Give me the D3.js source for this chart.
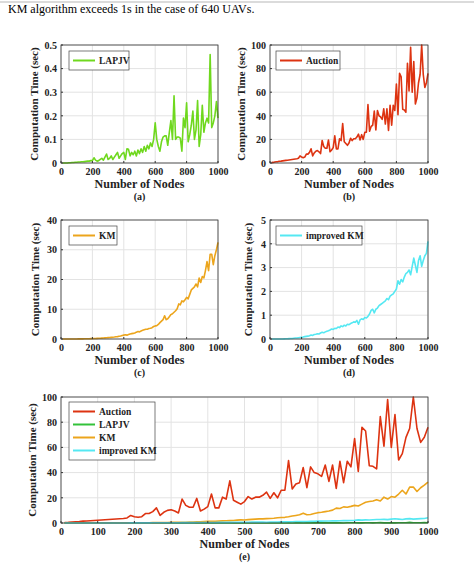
<!DOCTYPE html>
<html><head><meta charset="utf-8">
<script src="https://cdn.jsdelivr.net/npm/d3@7"></script>
<style>body{margin:0;background:#fff}text{font-family:"Liberation Serif",serif;font-weight:bold}</style>
</head><body><svg id="c" width="474" height="569"></svg>
<script>
const nodes = d3.range(10, 1001, 10);
const lapjv = [0,0,0,0,0.001,0.001,0.002,0.002,0.003,0.003,
0.004,0.004,0.005,0.005,0.006,0.007,0.008,0.008,0.01,0.01,
0.022,0.012,0.008,0.01,0.015,0.02,0.012,0.025,0.038,0.015,
0.02,0.03,0.015,0.025,0.035,0.045,0.02,0.03,0.04,0.045,
0.015,0.06,0.058,0.03,0.045,0.035,0.05,0.03,0.055,0.04,
0.06,0.045,0.07,0.05,0.075,0.06,0.085,0.07,0.1,0.17,
0.1,0.07,0.05,0.09,0.11,0.115,0.115,0.075,0.13,0.18,
0.1,0.285,0.1,0.11,0.11,0.105,0.05,0.19,0.15,0.255,
0.09,0.12,0.16,0.22,0.1,0.14,0.265,0.07,0.12,0.245,
0.13,0.17,0.19,0.17,0.46,0.15,0.17,0.2,0.26,0.19];
const auction = [0.3,0.5,0.8,1,1.2,1.5,1.6,1.8,2,2.2,
2.4,2.6,2.8,3,3.2,3.4,3.6,4,6,5,
4.5,5,7.5,7.5,9,12,6,8.5,10,10.5,
9.5,8,19,14,12.5,12.5,19.5,9.5,11,13,
23,12,12,20.5,19,33.5,18,16.5,15,17,
21,19,20.5,20.5,22,24.5,19.5,24,20,26,
26,49.5,27,31,32,44,28,44.5,40,39,
37,46,33,46,27.5,49,32,49,44.5,67,
41,76,73,45.5,45,43,84.5,61,98,60,
86,50,55,68,75,100,75,64,68,76];
const km = [0,0,0,0,0,0,0.01,0.01,0.02,0.02,
0.03,0.03,0.04,0.05,0.06,0.07,0.08,0.1,0.12,0.14,
0.16,0.18,0.2,0.23,0.26,0.3,0.33,0.37,0.42,0.47,
0.5,0.55,0.6,0.65,0.75,0.8,0.9,1.0,1.2,1.3,
1.4,1.3,1.5,1.7,1.8,1.9,2.0,2.3,2.5,2.4,
2.7,2.9,3.1,3.3,3.3,3.5,3.6,3.8,4.2,4.4,
4.5,4.9,5.5,6.0,6.5,7.8,6.5,6.8,7.5,8.2,
8.5,9.0,9.5,10.2,11.8,11.5,12.8,12.5,13.2,14,
13.5,15,16.5,17,17.5,18.5,17.5,20.5,19,21,
20.5,23,26,23,28.5,28.5,25,28,30,32.5];
const improvedKM = [0,0,0,0,0,0,0,0,0.005,0.01,
0.01,0.015,0.02,0.02,0.03,0.04,0.04,0.05,0.06,0.07,
0.08,0.1,0.11,0.12,0.14,0.17,0.15,0.19,0.2,0.22,
0.21,0.25,0.28,0.26,0.3,0.33,0.35,0.38,0.42,0.4,
0.45,0.44,0.5,0.48,0.55,0.52,0.58,0.55,0.62,0.6,
0.65,0.68,0.72,0.7,0.78,0.62,0.8,0.85,0.82,0.9,
0.88,0.95,1.05,1.2,1.25,1.1,1.25,1.3,1.4,1.45,
1.5,1.55,1.6,1.7,1.65,1.8,1.85,1.9,2.0,2.1,
2.45,2.3,2.5,2.4,2.6,2.75,2.8,2.9,2.7,3.05,
3.4,3.1,2.8,3.3,3.5,3.05,3.3,3.5,3.6,4.1];
const C = {lapjv:"#6fd81e", lapjvE:"#33c23a", auction:"#dd3311", km:"#eca51c", ikm:"#55e8f2"};

const svg = d3.select("#c");
svg.append("line").attr("x1",0).attr("x2",474).attr("y1",2).attr("y2",2).attr("stroke","#999").attr("stroke-width",0.7);
svg.append("text").attr("x",8).attr("y",13).attr("font-size",12)
  .style("font-weight","normal").text("KM algorithm exceeds 1s in the case of 640 UAVs.");

const fmt = d => String(+(+d).toFixed(6));
function panel(o){
  const x = d3.scaleLinear().domain([0,1000]).range([o.x0,o.x1]);
  const y = d3.scaleLinear().domain([0,o.ymax]).range([o.y1,o.y0]);
  const g = svg.append("g");
  const xt = o.xticks, yt = y.ticks(5);
  g.selectAll(".gx").data(xt).join("line").attr("x1",d=>x(d)).attr("x2",d=>x(d)).attr("y1",o.y0).attr("y2",o.y1).attr("stroke","#e3e3e3");
  g.selectAll(".gy").data(yt).join("line").attr("y1",d=>y(d)).attr("y2",d=>y(d)).attr("x1",o.x0).attr("x2",o.x1).attr("stroke","#e3e3e3");
  o.series.forEach(s=>{
    g.append("path").datum(s.v).attr("fill","none").attr("stroke",s.c).attr("stroke-width",1.6).attr("stroke-linejoin","round")
      .attr("d", d3.line().x((d,i)=>x(nodes[i])).y(d=>y(Math.min(d,o.ymax))));
  });
  g.append("rect").attr("x",o.x0).attr("y",o.y0).attr("width",o.x1-o.x0).attr("height",o.y1-o.y0).attr("fill","none").attr("stroke","#333").attr("stroke-width",0.8);
  const ax = g.append("g").attr("transform",`translate(0,${o.y1})`).call(d3.axisBottom(x).tickValues(xt).tickFormat(fmt).tickSize(0).tickPadding(5));
  const ay = g.append("g").attr("transform",`translate(${o.x0},0)`).call(d3.axisLeft(y).tickValues(yt).tickFormat(fmt).tickSize(0).tickPadding(4));
  [ax,ay].forEach(a=>{a.select(".domain").remove(); a.selectAll("text").attr("font-size",10).attr("fill","#222").attr("font-family","Liberation Serif").attr("font-weight","bold");});
  g.selectAll(".tx").data(xt).join("line").attr("x1",d=>x(d)).attr("x2",d=>x(d)).attr("y1",o.y1).attr("y2",o.y1-2).attr("stroke","#333");
  g.selectAll(".ty").data(yt).join("line").attr("y1",d=>y(d)).attr("y2",d=>y(d)).attr("x1",o.x0).attr("x2",o.x0+2).attr("stroke","#333");
  const cx = (o.x0+o.x1)/2;
  g.append("text").attr("x",cx).attr("y",o.y1+25).attr("text-anchor","middle").attr("font-size",12).attr("fill","#222").text("Number of Nodes");
  g.append("text").attr("x",cx).attr("y",o.y1+37).attr("text-anchor","middle").attr("font-size",10).attr("fill","#222").text(o.tag);
  g.append("text").attr("transform",`translate(${o.ylx},${(o.y0+o.y1)/2}) rotate(-90)`).attr("text-anchor","middle").attr("font-size",11).attr("fill","#222").text("Computation Time (sec)");
  const L = o.leg, lh = 13;
  g.append("rect").attr("x",L.x).attr("y",L.y).attr("width",L.w).attr("height",o.series.length*lh+6).attr("fill","#fff").attr("stroke","#444").attr("stroke-width",0.7);
  o.series.forEach((s,i)=>{
    const yy = L.y+3+lh*i+lh/2;
    g.append("line").attr("x1",L.x+4).attr("x2",L.x+26).attr("y1",yy).attr("y2",yy).attr("stroke",s.c).attr("stroke-width",2);
    g.append("text").attr("x",L.x+30).attr("y",yy+3.5).attr("font-size",9.5).attr("fill","#222").text(s.n);
  });
}
const t5 = [0,200,400,600,800,1000];
panel({x0:61,x1:218,y0:45,y1:163,ymax:0.5,xticks:t5,tag:"(a)",ylx:38,leg:{x:69,y:51,w:60},series:[{v:lapjv,c:C.lapjv,n:"LAPJV"}]});
panel({x0:270,x1:428,y0:45,y1:163,ymax:100,xticks:t5,tag:"(b)",ylx:245,leg:{x:276,y:51,w:64},series:[{v:auction,c:C.auction,n:"Auction"}]});
panel({x0:61,x1:218,y0:220,y1:339,ymax:40,xticks:t5,tag:"(c)",ylx:39,leg:{x:69,y:226,w:48},series:[{v:km,c:C.km,n:"KM"}]});
panel({x0:270,x1:428,y0:220,y1:339,ymax:5,xticks:t5,tag:"(d)",ylx:252,leg:{x:276,y:226,w:86},series:[{v:improvedKM,c:C.ikm,n:"improved KM"}]});
panel({x0:61,x1:428,y0:397,y1:523,ymax:100,xticks:d3.range(0,1001,100),tag:"(e)",ylx:36,leg:{x:69,y:402,w:86},
  series:[{v:auction,c:C.auction,n:"Auction"},{v:lapjv,c:C.lapjvE,n:"LAPJV"},{v:km,c:C.km,n:"KM"},{v:improvedKM,c:C.ikm,n:"improved KM"}]});
</script></body></html>
